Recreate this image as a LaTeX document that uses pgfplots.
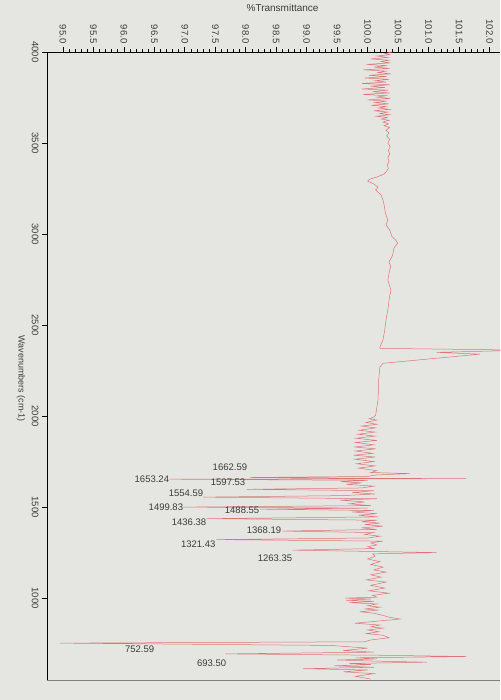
\documentclass[border=0pt]{standalone}
\usepackage{fontspec}
\setmainfont{Liberation Sans}
\usepackage{pgfplots}
\pgfplotsset{compat=1.18}
\definecolor{paper}{RGB}{229,229,225}
\definecolor{spec}{RGB}{222,116,122}
\definecolor{txt}{RGB}{60,60,60}
\begin{document}
\begin{tikzpicture}
\fill[paper] (0,0) rectangle (500pt,-700pt);
\begin{axis}[
 at={(47pt,-52pt)}, anchor=north west,
 scale only axis, width=453pt, height=628pt,
 xmin=94.74, xmax=102.17, ymin=550, ymax=4000,
 axis x line*=top, axis y line*=left,
 axis line style={black, line width=0.9pt},
 xtick={95,95.5,...,102}, minor x tick num=4,
 ytick={1000,1500,...,4000},
 tick align=outside,
 major tick length=5pt, minor tick length=3pt,
 tick style={black, line width=0.6pt},
 /pgf/number format/assume math mode=true,
 xticklabel style={rotate=-90, anchor=east, font=\fontsize{9.5}{10}\selectfont, text=txt,
   /pgf/number format/fixed, /pgf/number format/fixed zerofill, /pgf/number format/precision=1},
 yticklabel style={rotate=-90, anchor=north, font=\fontsize{9.5}{10}\selectfont, text=txt,
   /pgf/number format/1000 sep={}},
 xlabel={\%Transmittance}, ylabel={Wavenumbers (cm-1)},
 xlabel style={at={(axis description cs:0.52,1.070)}, anchor=center, font=\fontsize{10}{11}\selectfont, text=txt},
 ylabel style={at={(axis description cs:-0.0574,0.48)}, anchor=center, rotate=180, font=\fontsize{9}{10}\selectfont, text=txt},
 clip=true,
]
\addplot[spec, line width=0.5pt] table[x=T, y=W] {
T W
100.41 4000
100.28 3992
100.36 3985
100.15 3978
100.33 3970
100.05 3962
100.35 3955
100.22 3947
100.37 3940
99.98 3932
100.32 3925
100.10 3917
100.36 3910
99.93 3902
100.30 3895
100.17 3887
100.38 3880
100.02 3872
100.31 3865
99.95 3857
100.35 3850
100.12 3842
100.30 3835
99.91 3827
100.36 3820
100.05 3812
100.28 3805
99.90 3797
100.33 3790
100.08 3782
100.36 3775
99.92 3767
100.30 3760
100.15 3752
100.37 3745
100.00 3737
100.31 3730
100.12 3722
100.35 3715
100.06 3707
100.30 3700
100.18 3692
100.36 3685
100.10 3677
100.33 3670
100.20 3662
100.36 3655
100.14 3647
100.32 3640
100.22 3632
100.35 3625
100.25 3615
100.34 3605
100.27 3595
100.36 3585
100.30 3570
100.35 3555
100.31 3540
100.36 3520
100.33 3500
100.37 3480
100.34 3460
100.36 3440
100.33 3420
100.35 3400
100.32 3380
100.34 3360
100.31 3345
100.27 3330
100.15 3313
100.04 3302
100.00 3291
100.10 3275
100.17 3258
100.13 3242
100.22 3214
100.25 3187
100.27 3159
100.29 3115
100.33 3077
100.30 3050
100.36 3022
100.40 2985
100.46 2967
100.49 2950
100.43 2923
100.41 2885
100.35 2846
100.38 2820
100.36 2802
100.33 2747
100.38 2692
100.35 2637
100.33 2582
100.31 2550
100.30 2527
100.28 2473
100.25 2418
100.20 2379
100.20 2372
102.60 2362
101.13 2350
101.84 2340
100.25 2290
100.20 2270
100.18 2200
100.17 2090
100.13 2005
100.10 1994
100.02 1985
100.15 1978
99.97 1965
100.15 1955
99.90 1945
100.13 1935
99.86 1922
100.12 1912
99.84 1900
100.12 1890
99.81 1878
100.15 1866
99.80 1855
100.10 1842
99.78 1830
100.13 1820
99.80 1808
100.08 1795
99.77 1785
100.12 1775
99.79 1763
100.10 1750
99.82 1738
100.12 1726
99.85 1714
100.15 1700
100.05 1690
100.69 1684
100.12 1676
100.00 1668
98.07 1662.59
100.15 1658
101.62 1656
96.75 1653.24
100.00 1647
99.55 1640
99.90 1633
99.65 1625
100.10 1615
99.90 1605
98.02 1597.53
100.10 1590
99.75 1580
100.12 1572
99.60 1563
97.30 1554.59
100.15 1546
99.55 1538
99.95 1528
99.70 1518
100.05 1508
96.97 1499.83
100.00 1494
98.23 1488.55
100.10 1481
99.75 1473
100.15 1464
99.85 1455
100.18 1446
97.36 1436.38
100.15 1428
99.90 1420
100.20 1412
99.95 1404
100.25 1395
99.90 1386
100.15 1377
98.60 1368.19
100.10 1360
99.95 1350
100.20 1340
100.00 1330
97.52 1321.43
100.25 1313
100.05 1303
100.15 1292
100.00 1282
100.10 1272
98.77 1263.35
100.10 1256
101.13 1250
100.08 1243
100.12 1230
100.00 1215
100.20 1200
100.05 1185
100.25 1170
100.10 1155
100.30 1143
100.05 1128
100.22 1115
99.98 1100
100.30 1088
100.05 1070
100.28 1055
100.02 1040
100.35 1027
100.08 1015
100.15 1005
99.63 1000
100.05 995
99.65 988
100.10 982
99.70 975
100.15 968
100.00 958
100.20 950
99.95 940
100.18 934
99.87 925
100.10 917
100.25 905
100.35 895
100.53 885
100.30 878
100.05 870
99.79 862
100.20 852
100.05 842
100.25 835
100.00 825
100.18 815
99.98 805
100.25 796
100.35 782
100.05 770
99.95 760
94.95 752.59
99.40 740
100.00 725
99.60 712
100.10 703
97.66 693.50
100.20 686
101.62 679
99.80 672
100.15 666
99.50 660
100.10 654
100.97 648
99.70 641
100.05 635
99.45 628
100.10 620
98.94 612
100.00 605
99.60 595
100.10 585
99.80 570
100.05 555
};
\draw[gray, line width=0.6pt] (rel axis cs:0,0) -- (rel axis cs:1,0);
\begin{scope}[every node/.style={font=\fontsize{9.5}{10}\selectfont, text=txt}]
\node at (axis cs:97.74,1720) {1662.59};
\node at (axis cs:96.46,1654) {1653.24};
\node at (axis cs:97.71,1637) {1597.53};
\node at (axis cs:97.02,1577) {1554.59};
\node at (axis cs:96.69,1500) {1499.83};
\node at (axis cs:97.94,1484) {1488.55};
\node at (axis cs:97.07,1418) {1436.38};
\node at (axis cs:98.30,1374) {1368.19};
\node at (axis cs:97.22,1297) {1321.43};
\node at (axis cs:98.48,1220) {1263.35};
\node at (axis cs:96.26,720) {752.59};
\node at (axis cs:97.44,643) {693.50};
\end{scope}
\end{axis}
\end{tikzpicture}
\end{document}
